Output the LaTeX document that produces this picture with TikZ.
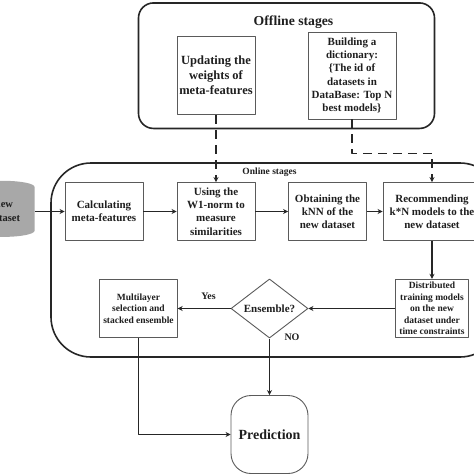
\documentclass[tikz,border=0pt]{standalone}
\usepackage{fontspec}
\setmainfont{Liberation Serif}
\usetikzlibrary{shapes.geometric, arrows.meta}
\definecolor{boxgray}{HTML}{5A5A5A}
\definecolor{inkgray}{HTML}{1E1E1E}
\definecolor{drumgray}{HTML}{A8A8A8}
\tikzset{
	stagebox/.style={draw=boxgray, line width=0.9pt, align=center, inner sep=0pt, text=inkgray, font=\fontsize{11}{13.2}\selectfont\bfseries},
	smallbox/.style={stagebox, font=\fontsize{9.5}{11.6}\selectfont\bfseries},
	outerbox/.style={draw=black!85, line width=1.6pt, rounded corners=#1, inner sep=0pt},
	flow/.style={-{Stealth[length=5pt, width=5pt]}, line width=1.1pt, black!85},
	dashflow/.style={flow, dash pattern=on 9pt off 6pt},
	plainlabel/.style={inner sep=0pt, text=inkgray, font=\fontsize{10}{12}\selectfont\bfseries}
}
\begin{document}
\begin{tikzpicture}[x=1pt, y=-1pt, line cap=butt, line join=round]
	
	% Page frame
	\useasboundingbox (0, 0) rectangle (474, 474);
	\clip (0, 0) rectangle (474, 474);
	
	% Stage frames
	\node[outerbox=15pt, minimum width=296pt, minimum height=125.5pt] (offline) at (286.5, 65.7) {};
	\node[outerbox=40pt, minimum width=449pt, minimum height=194pt] (online) at (275.5, 260) {};
	
	% Stage titles
	\node[plainlabel, font=\fontsize{13.7}{15}\selectfont\bfseries] (offlinetitle) at (293.5, 22) {Offline stages};
	\node[plainlabel, font=\fontsize{9.5}{11}\selectfont\bfseries] (onlinetitle) at (269.5, 172.5) {Online stages};
	
	% Offline boxes
	\node[stagebox, font=\fontsize{12.5}{15}\selectfont\bfseries, minimum width=78pt, minimum height=78pt] (weights) at (216, 75.5) {Updating the\\weights of\\meta-features};
	\node[stagebox, minimum width=88pt, minimum height=87pt] (dictionary) at (352, 75.5) {Building a\\dictionary:\\\{The id of\\datasets in\\DataBase: Top N\\best models\}};
	
	% Data source
	\node[cylinder, shape border rotate=90, aspect=0.38, fill=drumgray, minimum width=61pt, minimum height=56pt, inner sep=0pt, align=center, text=inkgray, font=\fontsize{10.5}{13.2}\selectfont\bfseries] (newdata) at (4, 212) {new\\dataset};
	
	% First row
	\node[stagebox, minimum width=78pt, minimum height=58pt] (metafeat) at (104, 211.5) {Calculating\\meta-features};
	\node[stagebox, minimum width=78pt, minimum height=58pt] (similar) at (216, 211.5) {Using the\\W1-norm to\\measure\\similarities};
	\node[stagebox, minimum width=78pt, minimum height=58pt] (knn) at (327.5, 211.5) {Obtaining the\\kNN of the\\new dataset};
	\node[stagebox, minimum width=98pt, minimum height=58pt] (recommend) at (432, 211.5) {Recommending\\k*N models to the\\new dataset};
	
	% Second row
	\node[smallbox, minimum width=77.5pt, minimum height=58.5pt] (stacked) at (138.5, 308.5) {Multilayer\\selection and\\stacked ensemble};
	\node[diamond, draw=boxgray, line width=0.9pt, minimum width=77pt, minimum height=58pt, inner sep=0pt, text=inkgray, font=\fontsize{11}{13}\selectfont\bfseries] (ensemble) at (269.5, 308.5) {Ensemble?};
	\node[smallbox, minimum width=72.5pt, minimum height=58.5pt] (training) at (432, 308.5) {Distributed\\training models\\on the new\\dataset under\\time constraints};
	
	% Result
	\node[draw=boxgray, line width=0.9pt, rounded corners=20pt, minimum width=77pt, minimum height=78pt, inner sep=0pt, text=inkgray, font=\fontsize{14}{17}\selectfont\bfseries] (prediction) at (269.5, 434.5) {Prediction};
	
	% Edge labels
	\node[plainlabel] (yes) at (208.5, 296) {Yes};
	\node[plainlabel] (no) at (292, 337.5) {NO};
	
	% Dashed links
	\coordinate (dictdown) at (352, 153.5);
	\coordinate (recabove) at (432, 153.5);
	\draw[dashflow] (weights.south) -- (similar.north);
	\draw[dashflow] (dictionary.south) -- (dictdown) -- (recabove) -- (recommend.north);
	
	% Solid links
	\draw[flow] (newdata.east |- metafeat.west) -- (metafeat.west);
	\draw[flow] (metafeat.east) -- (similar.west);
	\draw[flow] (similar.east) -- (knn.west);
	\draw[flow] (knn.east) -- (recommend.west);
	\draw[flow] (recommend.south) -- (training.north);
	\draw[flow] (training.west) -- (ensemble.east);
	\draw[flow] (ensemble.west) -- (stacked.east);
	\draw[flow] (ensemble.south) -- (prediction.north);
	\draw[flow] (stacked.south) |- (prediction.west);
	
\end{tikzpicture}
\end{document}
